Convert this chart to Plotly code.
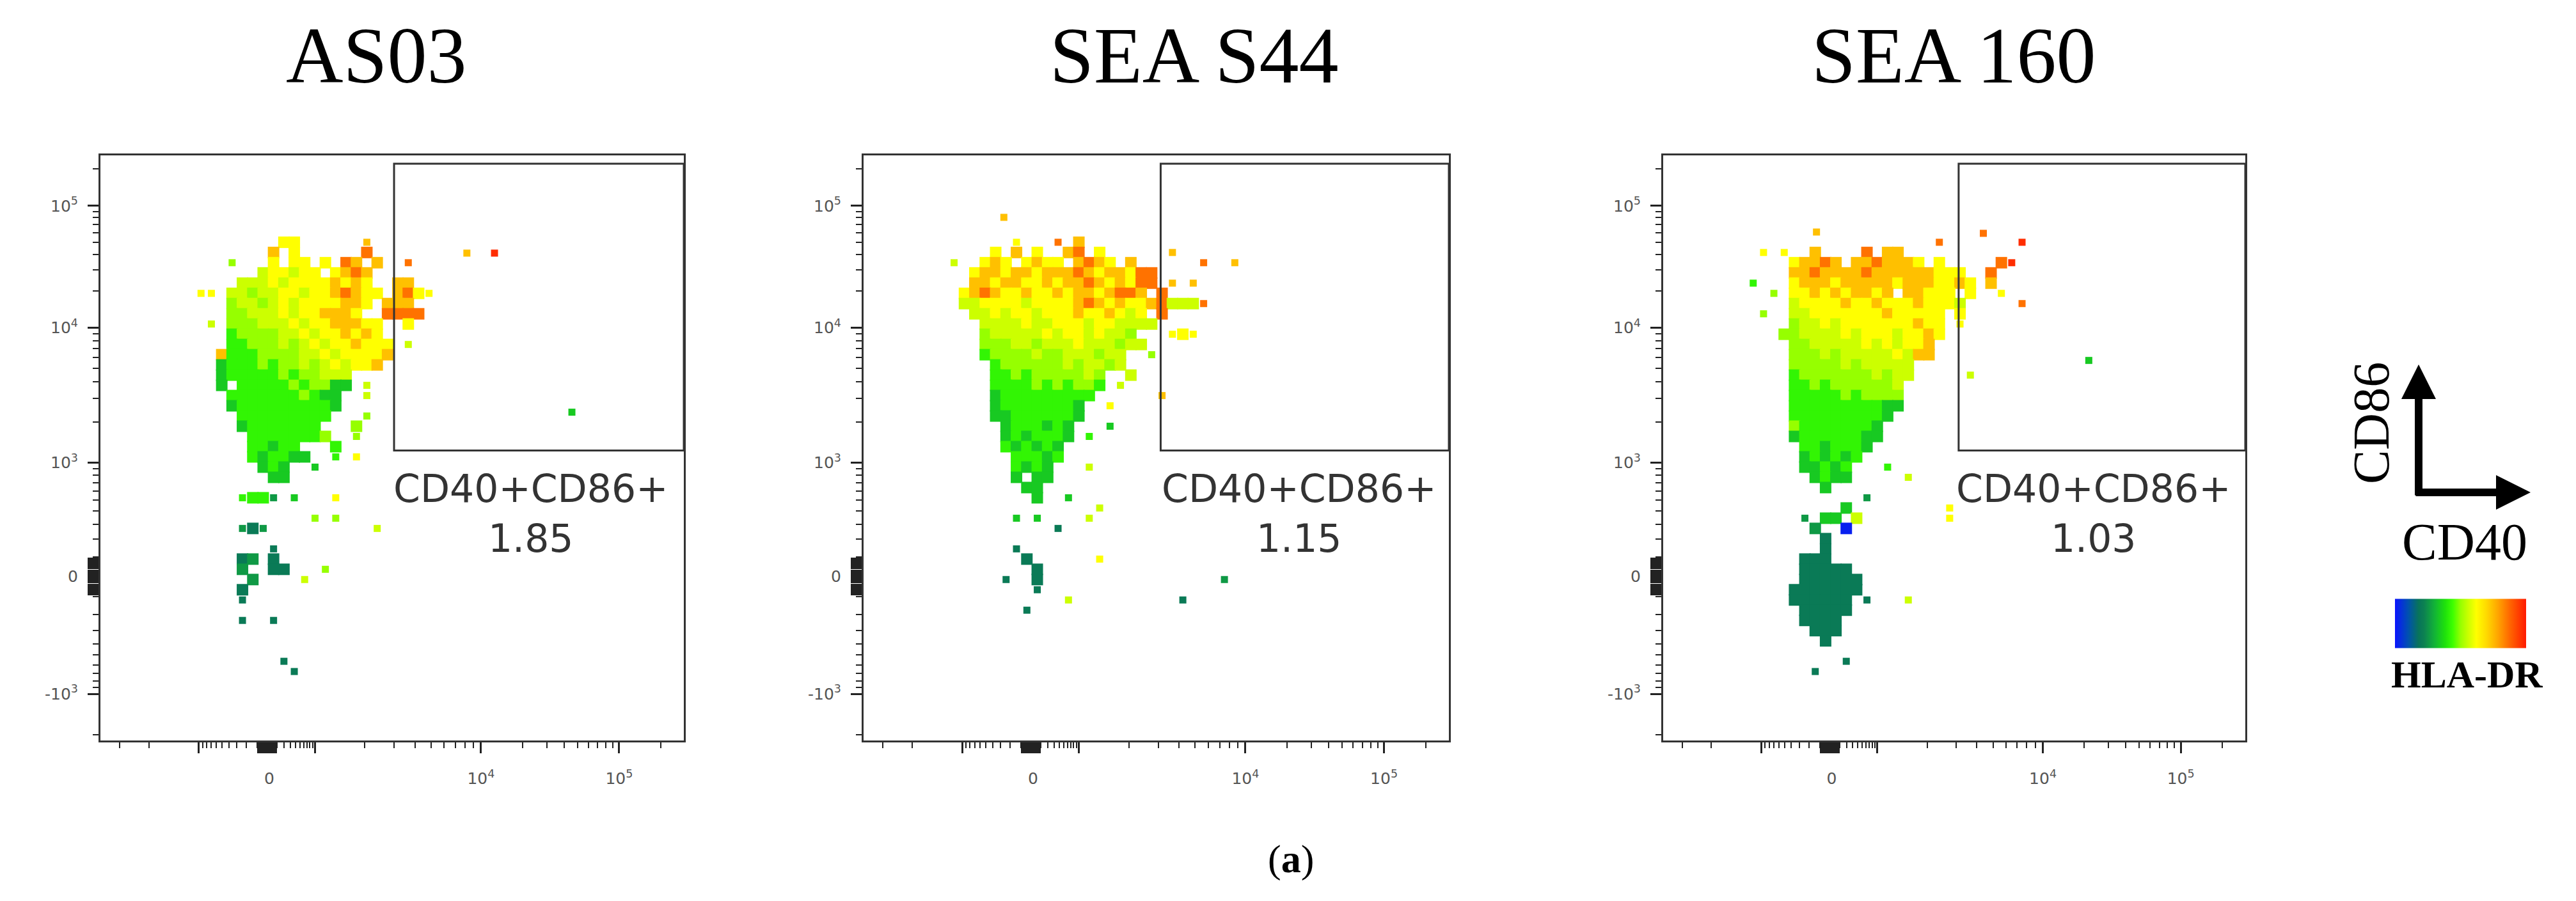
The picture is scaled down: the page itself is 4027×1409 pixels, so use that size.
import numpy as np
import plotly.graph_objects as go

# --- 1. Data (logicle display units) ---

W, H = 4027, 1409

# every dot plot is stored as a character grid: one char = one event pixel,
# '.' = empty, digits/r = HLA-DR level of that pixel
GRID_X0, GRID_DX = -0.569, 0.075
GRID_Y0, GRID_DY = 2.615, 0.08
LEVELS = {'0': 0.02, '1': 0.20, '2': 0.26, '3': 0.34, '4': 0.42, '5': 0.50,
          '6': 0.56, '7': 0.62, '8': 0.74, '9': 0.86, 'r': 0.97}

AS03_ROWS = [
    ".........77......8",
    "........8.7......9",
    "....5...7.77.7.98.8..9",
    ".......677677.7898",
    ".....6667677778787..88",
    ".77.665667767789877.8977",
    "....56656767777887.888",
    "....5566676778887..9999",
    "..6.555666767788877..7",
    "....455556676778787",
    "....4455565676778777.6",
    "...84445555667677778",
    "...3444545565676778",
    "...3444445455666",
    "...3.44444545533.6",
    "....44444445433..6",
    "....34444444443",
    ".....444444444...5",
    ".....34444444...5",
    "......44444445..5",
    "......44344...4",
    "......434433..4.7",
    ".......343..3",
    "........33",
    "",
    ".....4442.3...7",
    "",
    "............5.5",
    ".....212..........6",
    "",
    "........1",
    ".....12.1",
    ".....2..11...5",
    "......2....6",
    ".....1",
    ".....1",
    "",
    ".....1..1",
    "", "", "",
    ".........1",
    "..........1",
]
AS03_EXTRA_X = [1.43, 1.63, 2.19]
AS03_EXTRA_Y = [2.53, 2.53, 1.285]
AS03_EXTRA_C = ['8', 'r', '3']

S44_ROWS = [
    "......7...9.8",
    "....7.8.7..89.7......8",
    "6..787.7877.8987.8......9..8",
    "..788788788898788799",
    "..887887787889878799.8.8",
    ".789877877878878998.9",
    ".667777677778987877896669",
    "..66767767778778767.9",
    "...66667667776776666",
    "...566666767767665...777",
    "...5556656667666566",
    "...45555655666566..5",
    "....4555555656656",
    "....44545555565..6",
    "....44445454554.6",
    "....3444444444......8",
    "....344444443..7",
    "....334444443",
    ".....3444343...3",
    ".....3434443.4",
    ".....434343",
    "......44434",
    "......4343...6",
    "......3.33",
    ".......33",
    "........3..3",
    "..............6",
    "......3.3....6",
    "..........1",
    "",
    "......1",
    ".......1......7",
    "........1",
    ".....1..1.................2",
    "........1",
    "...........6..........1",
    ".......1",
]
S44_EXTRA_X = [-0.21]
S44_EXTRA_Y = [2.81]
S44_EXTRA_C = ['8']

S160_ROWS = [
    "..................9.......r",
    ".7.7..8....9.88",
    "....78898.8898887.7.....9r",
    "....88988889888888777..9",
    "4...788878888878887787.8",
    "..5.7787878878.88777.7..7",
    "....67777877877787776.....9",
    ".5..667777777877777.7",
    "....566767777777877.7",
    "...5566667677767787",
    "....55666667676778",
    "....55565666667688",
    "....555556566666",
    "....455555556566.....6",
    "....44545555556",
    "....44444545555",
    "....44444444433",
    "....4444444443",
    "....544444443",
    "....344444433",
    ".....4434443",
    ".....343434",
    ".....33434...4",
    "......3433.....6",
    ".......3",
    "...........2",
    ".........3.........7",
    ".....2.33.6........7",
    "......2..0",
    ".......1",
    ".......1",
    ".....111",
    ".....11111",
    ".....111111",
    "....1111111",
    "....111111.1...6",
    ".....11111",
    ".....1111",
    "......111",
    ".......1",
    "",
    ".........1",
    "......1",
]
S160_EXTRA_X = [-0.11, 1.10, 1.865]
S160_EXTRA_Y = [2.695, 2.685, 1.69]
S160_EXTRA_C = ['8', '9', '3']

PANEL_TITLES = ["AS03", "SEA S44", "SEA 160"]
GATE_PERCENT = ["1.85", "1.15", "1.03"]
GATE_LEFT = [0.903, 0.921, 0.921]
GATE_BOTTOM = 0.985
GATE_TOP = 3.23

# axis scale (logicle display units) and tick labels
X_RANGE = [-1.222, 3.0]
Y_RANGE = [-1.285, 3.295]
X_TICKS = [-0.51, 0.0, 0.33, 1.532, 2.532]
X_TICKTEXT = ['', '0', '', '10<sup>4</sup>', '10<sup>5</sup>']
Y_TICKS = [-0.92, 0.0, 0.89, 1.945, 2.90]
Y_TICKTEXT = ['-10<sup>3</sup>', '0', '10<sup>3</sup>', '10<sup>4</sup>', '10<sup>5</sup>']

COLORSCALE = [
    [0.00, '#0a14ff'], [0.10, '#0050b0'], [0.18, '#08745a'], [0.22, '#0c8052'],
    [0.30, '#12b238'], [0.38, '#1ee00c'], [0.44, '#3cff00'], [0.50, '#96ff00'],
    [0.56, '#ccff00'], [0.62, '#ffff00'], [0.70, '#ffd800'], [0.78, '#ffa800'],
    [0.88, '#ff6400'], [1.00, '#ff1a00'],
]

# --- 2. Helpers ---


def grid_events(rows, ex, ey, ec):
    cells = {}
    for i, row in enumerate(rows):
        for j, ch in enumerate(row):
            if ch in LEVELS:
                cells[(i, j)] = LEVELS[ch]
    xs, ys, cs, ss = [], [], [], []
    for (i, j), c in cells.items():
        near = sum((i + di, j + dj) in cells
                   for di in (-1, 0, 1) for dj in (-1, 0, 1) if di or dj)
        xs.append(GRID_X0 + j * GRID_DX)
        ys.append(GRID_Y0 - i * GRID_DY)
        cs.append(c)
        ss.append(18 if near >= 2 else 11)   # packed events merge into a blob
    xs += ex
    ys += ey
    cs += [LEVELS[c] for c in ec]
    ss += [11] * len(ex)
    return xs, ys, cs, ss


def zero_cluster(neg1k, pos1k):
    out = []
    c = 300.0
    for v in range(10, 100, 10):
        f = np.arcsinh(v / c) / np.arcsinh(1000 / c)
        out += [float(pos1k * f), float(-abs(neg1k) * f)]
    return out


def minor_ticks(neg1k, pos1k, pos10k, pos100k, lo, hi):
    out = []
    c = 300.0
    for v in range(100, 1000, 100):
        f = np.arcsinh(v / c) / np.arcsinh(1000 / c)
        out += [pos1k * f, -abs(neg1k) * f]
    dec_a = pos10k - pos1k
    dec_b = pos100k - pos10k
    for k in range(2, 10):
        lk = np.log10(k)
        out += [pos1k + dec_a * lk, pos10k + dec_b * lk,
                pos100k + dec_b * lk, neg1k - dec_a * lk]
    return [float(t) for t in out if lo < t < hi]


def px(x):
    return x / W


def py(y):
    return 1 - y / H


panels = [
    grid_events(AS03_ROWS, AS03_EXTRA_X, AS03_EXTRA_Y, AS03_EXTRA_C),
    grid_events(S44_ROWS, S44_EXTRA_X, S44_EXTRA_Y, S44_EXTRA_C),
    grid_events(S160_ROWS, S160_EXTRA_X, S160_EXTRA_Y, S160_EXTRA_C),
]

X_DOMAINS = [(149, 1061), (1342, 2257), (2592, 3502)]
Y_DOMAIN = [py(1150), py(235)]
TITLE_X = [580, 1858, 3046]
LABEL_X = [1.89, 1.92, 1.90]

x_zero = zero_cluster(X_TICKS[0], X_TICKS[2])
y_zero = zero_cluster(Y_TICKS[0], Y_TICKS[2])
x_minor = minor_ticks(X_TICKS[0], X_TICKS[2], X_TICKS[3], X_TICKS[4], *X_RANGE)
y_minor = minor_ticks(Y_TICKS[0], Y_TICKS[2], Y_TICKS[3], Y_TICKS[4], *Y_RANGE)

# --- 3. Figure ---

fig = go.Figure()
layout = {}
shapes = []
annotations = []
tick_font = dict(family="DejaVu Sans", size=25, color="#555")

for k, (xs, ys, cs, ss) in enumerate(panels):
    n = '' if k == 0 else str(k + 1)
    fig.add_trace(go.Scatter(
        x=xs, y=ys, mode='markers', xaxis='x' + n, yaxis='y' + n,
        marker=dict(symbol='square', size=ss, color=cs, coloraxis='coloraxis',
                    opacity=1, line=dict(width=0)),
        hoverinfo='skip', showlegend=False))

    common = dict(showline=True, mirror=True, linecolor='#333', linewidth=3,
                  ticks='outside', ticklen=17, tickwidth=3, tickcolor='#222',
                  showgrid=False, zeroline=False, tickmode='array',
                  tickfont=tick_font, fixedrange=True)
    layout['xaxis' + n] = dict(
        common, domain=[px(X_DOMAINS[k][0]), px(X_DOMAINS[k][1])],
        range=X_RANGE, tickvals=X_TICKS + x_zero,
        ticktext=X_TICKTEXT + [''] * len(x_zero),
        anchor='y' + n, ticklabelstandoff=18,
        minor=dict(tickmode='array', tickvals=x_minor, ticks='outside',
                   ticklen=9, tickwidth=2, tickcolor='#222'))
    layout['yaxis' + n] = dict(
        common, domain=Y_DOMAIN, range=Y_RANGE, tickvals=Y_TICKS + y_zero,
        ticktext=Y_TICKTEXT + [''] * len(y_zero), anchor='x' + n,
        ticklabelstandoff=10,
        minor=dict(tickmode='array', tickvals=y_minor, ticks='outside',
                   ticklen=9, tickwidth=2, tickcolor='#222'))

    # CD40+CD86+ gate
    shapes.append(dict(type='rect', xref='x' + n, yref='y' + n,
                       x0=GATE_LEFT[k], x1=X_RANGE[1], y0=GATE_BOTTOM, y1=GATE_TOP,
                       line=dict(color='#333', width=3)))
    annotations.append(dict(xref='x' + n, yref='y' + n, x=LABEL_X[k], y=0.49,
                            text='CD40+CD86+<br>' + GATE_PERCENT[k], showarrow=False,
                            font=dict(family='DejaVu Sans', size=60, color='#333'),
                            xanchor='center', yanchor='middle'))
    annotations.append(dict(xref='paper', yref='paper', x=px(TITLE_X[k]), y=py(80),
                            text=PANEL_TITLES[k], showarrow=False,
                            font=dict(family='Liberation Serif', size=124, color='black'),
                            xanchor='center', yanchor='middle'))

# axis key and colour key on the right
serif = 'Liberation Serif'
key = dict(xref='paper', yref='paper', showarrow=False, xanchor='center', yanchor='middle')
annotations += [
    dict(key, x=px(3699), y=py(654), text='CD86', textangle=-90,
         font=dict(family=serif, size=80, color='black')),
    dict(key, x=px(3845), y=py(839), text='CD40',
         font=dict(family=serif, size=82, color='black')),
    dict(key, x=px(3848), y=py(1047), text='<b>HLA-DR</b>',
         font=dict(family=serif, size=60, color='black')),
    dict(key, x=px(2010), y=py(1335), text='(<b>a</b>)',
         font=dict(family=serif, size=62, color='black')),
    dict(xref='paper', yref='paper', x=px(3773), y=py(562), text='', showarrow=True,
         ax=0, ay=206, arrowhead=2, arrowsize=0.9, arrowwidth=12, arrowcolor='black'),
    dict(xref='paper', yref='paper', x=px(3948), y=py(762), text='', showarrow=True,
         ax=-181, ay=0, arrowhead=2, arrowsize=0.9, arrowwidth=12, arrowcolor='black'),
]

fig.update_layout(
    width=W, height=H, margin=dict(l=0, r=0, t=0, b=0),
    paper_bgcolor='white', plot_bgcolor='white', showlegend=False,
    shapes=shapes, annotations=annotations,
    coloraxis=dict(colorscale=COLORSCALE, cmin=0, cmax=1,
                   colorbar=dict(orientation='h', x=px(3838), xanchor='center',
                                 y=py(967), yanchor='middle', len=205, lenmode='pixels',
                                 thickness=77, showticklabels=False, ticks='',
                                 outlinewidth=0, xpad=0, ypad=0)),
    **layout,
)

fig.write_html("out.html")
